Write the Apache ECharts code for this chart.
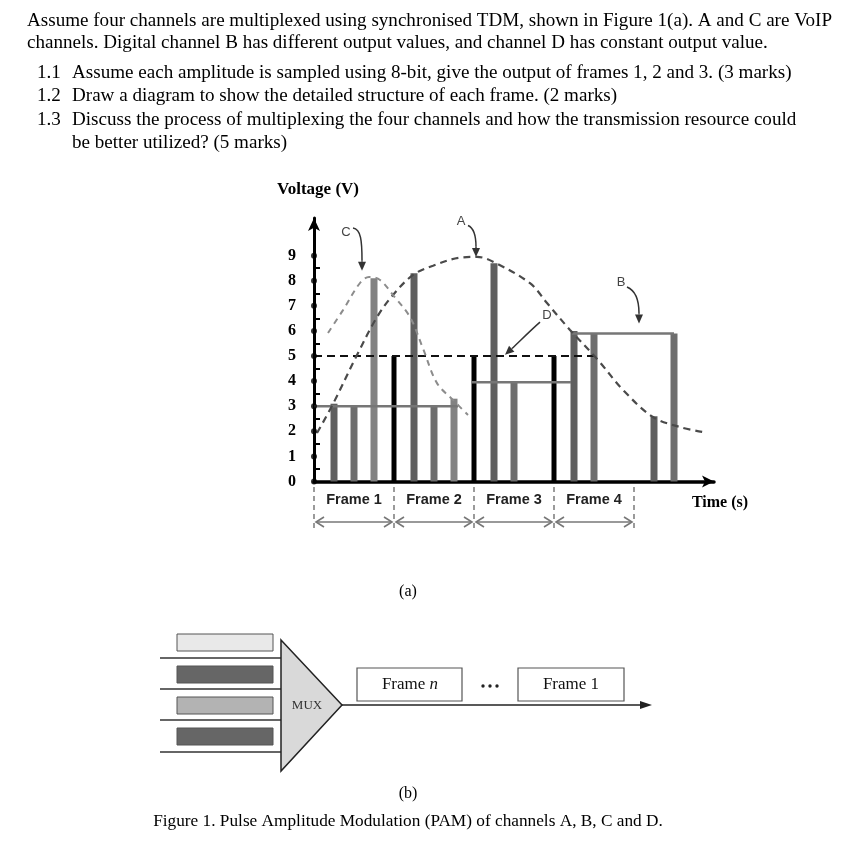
<!DOCTYPE html>
<html><head><meta charset="utf-8">
<script src="https://cdn.jsdelivr.net/npm/echarts@6/dist/echarts.min.js"></script>
<style>html,body{margin:0;padding:0;background:#fff}#c{width:845px;height:851px}</style>
</head><body><div id="c"></div>
<script>
// ---------------- data ----------------
const yTickValues = [0, 1, 2, 3, 4, 5, 6, 7, 8, 9];
const yMinorTicks = [0.5, 1.5, 2.5, 3.5, 4.5, 5.5, 6.5, 7.5, 8.5];
const frameBounds = [0, 4, 8, 12, 16];
const frameNames = ['Frame 1', 'Frame 2', 'Frame 3', 'Frame 4'];
// PAM samples [time slot, voltage]
const sampleA = [[1, 3.1], [5, 8.3], [9, 8.7], [13, 6.0], [17, 2.6]];
const sampleB = [[2, 3.0], [6, 3.0], [10, 4.0], [14, 5.9], [18, 5.9]];
const sampleC = [[3, 8.1], [7, 3.3]];
const sampleD = [[4, 5.0], [8, 5.0], [12, 5.0]];
// analogue signals (dashed)
const curveA = [[0.15, 1.93], [0.95, 3.09], [2.15, 5.04], [3.15, 6.55], [3.95, 7.43], [4.95, 8.23], [5.95, 8.6], [7.3, 8.92], [8.15, 8.95], [8.95, 8.76], [10.8, 7.9], [11.65, 7.11], [12.8, 6.04], [14.2, 4.84], [15.45, 3.65], [16.95, 2.57], [18.3, 2.17], [19.45, 1.97]];
const curveC = [[0.7, 5.92], [1.45, 6.83], [2.3, 7.91], [2.75, 8.15], [3.3, 8.03], [3.95, 7.43], [4.8, 6.55], [5.45, 5.3], [6.15, 3.92], [6.95, 3.25], [7.7, 2.65]];
// digital channel B levels [from, to, value] and constant channel D
const levelB = [[0, 7.2, 3.0], [7.9, 12.85, 3.95], [12.9, 18, 5.9]];
const levelD = [[0, 14.2, 5.0]];
// annotations [label, labelPos, p0, c1, c2, p1, tip] in data coords
const annot = [
  ['C', [1.6, 9.94], [1.95, 10.1], [2.35, 10.05], [2.4, 9.6], [2.4, 8.8], [2.4, 8.4]],
  ['A', [7.35, 10.37], [7.7, 10.2], [8.0, 10.1], [8.1, 9.8], [8.1, 9.35], [8.1, 8.95]],
  ['B', [15.35, 7.92], [15.65, 7.75], [16.1, 7.6], [16.25, 7.2], [16.25, 6.7], [16.25, 6.3]],
  ['D', [11.65, 6.6], [11.3, 6.35], [10.8, 6.0], [10.3, 5.6], [9.9, 5.3], [9.55, 5.05]]
];
const textLines = [
  'Assume four channels are multiplexed using synchronised TDM, shown in Figure 1(a). A and C are VoIP',
  'channels. Digital channel B has different output values, and channel D has constant output value.'
];
const items = [
  ['1.1', 'Assume each amplitude is sampled using 8-bit, give the output of frames 1, 2 and 3. (3 marks)'],
  ['1.2', 'Draw a diagram to show the detailed structure of each frame. (2 marks)'],
  ['1.3', 'Discuss the process of multiplexing the four channels and how the transmission resource could'],
  ['', 'be better utilized? (5 marks)']
];
const caption = 'Figure 1. Pulse Amplitude Modulation (PAM) of channels A, B, C and D.';

// ---------------- chart ----------------
const chart = echarts.init(document.getElementById('c'), null, {width: 845, height: 851});
const SERIF = '"Liberation Serif", "Times New Roman", serif';
const SANS = '"Liberation Sans", Arial, sans-serif';

function barSeries(name, data, color, w) {
  return {
    type: 'custom', name, data, z: 3, clip: false,
    encode: {x: 0, y: 1},
    renderItem(params, api) {
      const top = api.coord([api.value(0), api.value(1)]);
      const base = api.coord([api.value(0), 0]);
      return {type: 'rect', shape: {x: top[0] - w / 2, y: top[1], width: w, height: base[1] - top[1]}, style: {fill: color}};
    }
  };
}
function levelSeries(name, data, color, width, dash) {
  return {
    type: 'custom', name, data, z: 4, clip: false,
    encode: {x: [0, 1], y: 2},
    renderItem(params, api) {
      const a = api.coord([api.value(0), api.value(2)]);
      const b = api.coord([api.value(1), api.value(2)]);
      return {type: 'line', shape: {x1: a[0], y1: a[1], x2: b[0], y2: b[1]},
        style: {stroke: color, lineWidth: width, lineDash: dash || null}};
    }
  };
}

chart.setOption({
  animation: false,
  grid: {left: 314, top: 218, width: 400, height: 263.5},
  xAxis: {
    type: 'value', min: 0, max: 20,
    axisLine: {show: true, onZero: false, lineStyle: {color: '#000', width: 3.5}, symbol: ['none', 'arrow'], symbolSize: [9, 12]},
    axisTick: {show: false}, axisLabel: {show: false}, splitLine: {show: false}
  },
  yAxis: {
    type: 'value', min: 0, max: 10.5,
    axisLine: {show: true, lineStyle: {color: '#000', width: 3}, symbol: ['none', 'arrow'], symbolSize: [9, 13]},
    axisTick: {show: true, inside: true, length: 6, customValues: yMinorTicks, lineStyle: {color: '#000', width: 2}},
    axisLabel: {customValues: yTickValues, formatter: v => String(v), fontFamily: SERIF, fontWeight: 'bold', fontSize: 16, color: '#000', margin: 18},
    splitLine: {show: false}
  },
  series: [
    levelSeries('B level', levelB, '#767676', 2.5),
    levelSeries('D level', levelD, '#111', 2.2, [8, 5]),
    barSeries('A', sampleA, '#5f5f5f', 7),
    barSeries('B', sampleB, '#6e6e6e', 7),
    barSeries('C', sampleC, '#828282', 7),
    barSeries('D', sampleD, '#000', 5),
    {type: 'line', name: 'A signal', data: curveA, smooth: 0.35, symbol: 'none', z: 5,
      lineStyle: {color: '#4a4a4a', width: 2.2, type: [7, 5]}},
    {type: 'line', name: 'C signal', data: curveC, smooth: 0.35, symbol: 'none', z: 5,
      lineStyle: {color: '#8c8c8c', width: 2, type: [6, 5]}},
    {type: 'scatter', name: 'ticks', data: yTickValues.map(v => [0, v]), symbol: 'circle', symbolSize: 6,
      itemStyle: {color: '#000'}, z: 6, clip: false, silent: true}
  ]
});

// ---------------- graphics ----------------
const P = (t, v) => chart.convertToPixel({gridIndex: 0}, [t, v]);
const g = [];
const ctx = document.createElement('canvas').getContext('2d');
function fitSize(text, font, target, base) {
  ctx.font = base + 'px ' + font;
  return base * target / ctx.measureText(text).width;
}
const bodySize = fitSize(textLines[0], SERIF, 805, 18);
const bodyFont = bodySize.toFixed(2) + 'px ' + SERIF;
function txt(text, x, y, font, align, fill) {
  g.push({type: 'text', style: {text, x, y, font, fill: fill || '#000', align: align || 'left', verticalAlign: 'middle'}});
}
txt(textLines[0], 27, 21, bodyFont);
txt(textLines[1], 27, 43, bodyFont);
const itemYs = [73, 96, 120, 143];
items.forEach((it, i) => {
  if (it[0]) txt(it[0], 37, itemYs[i], bodyFont);
  txt(it[1], 72, itemYs[i], bodyFont);
});

// axis names
txt('Voltage (V)', 318, 190, 'bold 17px ' + SERIF, 'center');
txt('Time (s)', 720, 503, 'bold 16px ' + SERIF, 'center');

// frame separators, labels and arrows
frameBounds.forEach(b => {
  const x = P(b, 0)[0];
  g.push({type: 'line', shape: {x1: x, y1: 487, x2: x, y2: 531}, style: {stroke: '#666', lineWidth: 1.3, lineDash: [5, 4]}});
});
frameNames.forEach((n, i) => {
  const x0 = P(frameBounds[i], 0)[0], x1 = P(frameBounds[i + 1], 0)[0];
  txt(n, (x0 + x1) / 2, 500, 'bold 14.5px ' + SANS, 'center', '#222');
  const ya = 522, a0 = x0 + 2, a1 = x1 - 2;
  g.push({type: 'line', shape: {x1: a0, y1: ya, x2: a1, y2: ya}, style: {stroke: '#777', lineWidth: 1.6}});
  g.push({type: 'polyline', shape: {points: [[a0 + 8, ya - 5], [a0, ya], [a0 + 8, ya + 5]]}, style: {stroke: '#777', lineWidth: 1.6, fill: null}});
  g.push({type: 'polyline', shape: {points: [[a1 - 8, ya - 5], [a1, ya], [a1 - 8, ya + 5]]}, style: {stroke: '#777', lineWidth: 1.6, fill: null}});
});

// annotations
annot.forEach(a => {
  const lp = P(a[1][0], a[1][1]);
  txt(a[0], lp[0], lp[1], '13px ' + SANS, 'center', '#444');
  const p0 = P(...a[2]), c1 = P(...a[3]), c2 = P(...a[4]), p1 = P(...a[5]), tip = P(...a[6]);
  g.push({type: 'bezierCurve', shape: {x1: p0[0], y1: p0[1], cpx1: c1[0], cpy1: c1[1], cpx2: c2[0], cpy2: c2[1], x2: p1[0], y2: p1[1]}, style: {stroke: '#333', lineWidth: 1.5, fill: null}});
  const dx = tip[0] - p1[0], dy = tip[1] - p1[1], L = Math.hypot(dx, dy) || 1;
  const ux = dx / L, uy = dy / L, hl = 9, hw = 4;
  const bx = tip[0] - ux * hl, by = tip[1] - uy * hl;
  g.push({type: 'polygon', shape: {points: [[tip[0], tip[1]], [bx - uy * hw, by + ux * hw], [bx + uy * hw, by - ux * hw]]}, style: {fill: '#333'}});
  g.push({type: 'line', shape: {x1: p1[0], y1: p1[1], x2: bx, y2: by}, style: {stroke: '#333', lineWidth: 1.5}});
});

txt('(a)', 408, 592, '16px ' + SERIF, 'center');

// diagram (b)
const inRects = [[634, '#e9e9e9'], [666, '#666666'], [697, '#b3b3b3'], [728, '#666666']];
inRects.forEach(r => g.push({type: 'rect', shape: {x: 177, y: r[0], width: 96, height: 17}, style: {fill: r[1], stroke: '#555', lineWidth: 1}}));
[658, 689, 720, 752].forEach(y => g.push({type: 'line', shape: {x1: 160, y1: y, x2: 281, y2: y}, style: {stroke: '#333', lineWidth: 1.5}}));
g.push({type: 'polygon', shape: {points: [[281, 640], [342, 705], [281, 771]]}, style: {fill: '#d9d9d9', stroke: '#222', lineWidth: 1.5}});
txt('MUX', 307, 706, '13px ' + SERIF, 'center', '#333');
g.push({type: 'line', shape: {x1: 342, y1: 705, x2: 642, y2: 705}, style: {stroke: '#222', lineWidth: 1.5}});
g.push({type: 'polygon', shape: {points: [[652, 705], [640, 701], [640, 709]]}, style: {fill: '#222'}});
g.push({type: 'rect', shape: {x: 357, y: 668, width: 105, height: 33}, style: {fill: '#fff', stroke: '#555', lineWidth: 1.2}});
g.push({type: 'rect', shape: {x: 518, y: 668, width: 106, height: 33}, style: {fill: '#fff', stroke: '#555', lineWidth: 1.2}});
g.push({type: 'text', style: {text: '{a|Frame }{b|n}', x: 410, y: 685, align: 'center', verticalAlign: 'middle',
  rich: {a: {font: '17px ' + SERIF, fill: '#111'}, b: {font: 'italic 17px ' + SERIF, fill: '#111'}}}});
txt('Frame 1', 571, 685, '17px ' + SERIF, 'center', '#111');
[483, 490, 497].forEach(x => g.push({type: 'circle', shape: {cx: x, cy: 686, r: 1.7}, style: {fill: '#222'}}));

txt('(b)', 408, 794, '16px ' + SERIF, 'center');
const capSize = fitSize(caption, SERIF, 510, 16);
txt(caption, 408, 821, capSize.toFixed(2) + 'px ' + SERIF, 'center');

chart.setOption({graphic: g});
</script>
</body></html>
